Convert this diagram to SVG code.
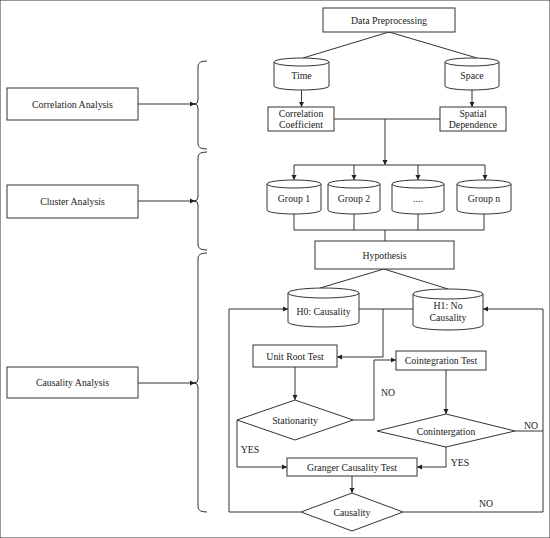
<svg xmlns="http://www.w3.org/2000/svg" width="550" height="538" viewBox="0 0 550 538">
<defs>
<marker id="ah" markerWidth="6" markerHeight="6" refX="5" refY="3" orient="auto" markerUnits="userSpaceOnUse">
<path d="M0,0.5 L5,3 L0,5.5 z" fill="#222"/>
</marker>
<style>
rect,path.shape,ellipse,polygon{fill:#fff;stroke:#333;stroke-width:1}
text{font-family:"Liberation Serif","Times New Roman",serif;font-size:9.8px;fill:#222;text-anchor:middle}
.c line,.c polyline,.c path{fill:none;stroke:#333;stroke-width:1}
.a{marker-end:url(#ah)}
</style>
</defs>
<rect width="550" height="538" fill="#fff" stroke="none"/>

<g class="c" id="connectors">
<line x1="389" y1="32" x2="303" y2="58"/>
<line x1="389" y1="32" x2="477" y2="58"/>
<line class="a" x1="301.5" y1="90" x2="301.5" y2="107"/>
<line class="a" x1="472" y1="90" x2="472" y2="107"/>
<line x1="334" y1="119" x2="440" y2="119"/>
<line class="a" x1="385" y1="119" x2="385" y2="165"/>
<line x1="294" y1="165" x2="485" y2="165"/>
<line class="a" x1="294" y1="165" x2="294" y2="180"/>
<line class="a" x1="354" y1="165" x2="354" y2="180"/>
<line class="a" x1="418" y1="165" x2="418" y2="180"/>
<line class="a" x1="485" y1="165" x2="485" y2="180"/>
<line x1="294" y1="214" x2="294" y2="230"/>
<line x1="354" y1="214" x2="354" y2="230"/>
<line x1="418" y1="214" x2="418" y2="230"/>
<line x1="484" y1="214" x2="484" y2="230"/>
<line x1="294" y1="230" x2="484" y2="230"/>
<line x1="385" y1="230" x2="385" y2="241"/>
<line x1="384" y1="269" x2="320" y2="288"/>
<line x1="384" y1="269" x2="448" y2="289"/>
<line x1="359" y1="309" x2="413" y2="309"/>
<polyline class="a" points="383,309 383,357 337,357"/>
<line class="a" x1="295" y1="367" x2="295" y2="400"/>
<polyline class="a" points="353,420 374,420 374,360 396,360"/>
<line class="a" x1="446" y1="370" x2="446" y2="414"/>
<line x1="515" y1="431" x2="543" y2="431"/>
<polyline class="a" points="543,512 543,309 483,309"/>
<polyline class="a" points="237,420 237,467 287,467"/>
<polyline class="a" points="446,447 446,467 417,467"/>
<line class="a" x1="352" y1="476" x2="352" y2="493"/>
<polyline class="a" points="301,512 229,512 229,309 288,309"/>
<line x1="403" y1="512" x2="543" y2="512"/>
<line class="a" x1="138" y1="104" x2="195" y2="104"/>
<line class="a" x1="138" y1="201" x2="195" y2="201"/>
<line class="a" x1="138" y1="383" x2="195" y2="383"/>
<path d="M207,61 Q198,61 198,66 L198,100 Q198,104 194,104 Q198,104 198,108 L198,144 Q198,149 207,149"/>
<path d="M207,152 Q198,152 198,157 L198,197 Q198,201 194,201 Q198,201 198,205 L198,245 Q198,250 207,250"/>
<path d="M207,253 Q198,253 198,258 L198,379 Q198,383 194,383 Q198,383 198,387 L198,507 Q198,512 207,512"/>
<text x="388" y="396">NO</text>
<text x="531" y="429">NO</text>
<text x="250" y="453">YES</text>
<text x="460" y="466">YES</text>
<text x="486" y="507">NO</text>
</g>

<g id="data-preprocessing"><rect x="323" y="8" width="132" height="24"/><text x="389" y="23.5">Data Preprocessing</text></g>

<g id="time"><path class="shape" d="M274,62 L274,86 A27.5,4 0 0 0 329,86 L329,62 Z"/><ellipse cx="301.5" cy="62" rx="27.5" ry="4"/><text x="301.5" y="79">Time</text></g>
<g id="space"><path class="shape" d="M445,62 L445,86 A27,4 0 0 0 499,86 L499,62 Z"/><ellipse cx="472" cy="62" rx="27" ry="4"/><text x="472" y="79">Space</text></g>

<g id="correlation-coefficient"><rect x="268" y="107" width="66" height="24"/><text x="301" y="116.5">Correlation</text><text x="301" y="128">Coefficient</text></g>
<g id="spatial-dependence"><rect x="440" y="107" width="66" height="24"/><text x="473" y="116.5">Spatial</text><text x="473" y="128">Dependence</text></g>

<g id="group1"><path class="shape" d="M267,184 L267,210 A27,4 0 0 0 321,210 L321,184 Z"/><ellipse cx="294" cy="184" rx="27" ry="4"/><text x="294" y="202">Group 1</text></g>
<g id="group2"><path class="shape" d="M328,184 L328,210 A26,4 0 0 0 380,210 L380,184 Z"/><ellipse cx="354" cy="184" rx="26" ry="4"/><text x="354" y="202">Group 2</text></g>
<g id="group-dots"><path class="shape" d="M392,184 L392,210 A26,4 0 0 0 444,210 L444,184 Z"/><ellipse cx="418" cy="184" rx="26" ry="4"/><text x="418" y="202">....</text></g>
<g id="groupn"><path class="shape" d="M457,184 L457,210 A27,4 0 0 0 511,210 L511,184 Z"/><ellipse cx="484" cy="184" rx="27" ry="4"/><text x="484" y="202">Group n</text></g>

<g id="hypothesis"><rect x="315" y="241" width="139" height="28"/><text x="384.5" y="258.5">Hypothesis</text></g>

<g id="h0"><path class="shape" d="M288,293 L288,322 A35.5,5 0 0 0 359,322 L359,293 Z"/><ellipse cx="323.5" cy="293" rx="35.5" ry="5"/><text x="323.5" y="314.5">H0: Causality</text></g>
<g id="h1"><path class="shape" d="M413,294 L413,325 A35,5 0 0 0 483,325 L483,294 Z"/><ellipse cx="448" cy="294" rx="35" ry="5"/><text x="448" y="308.5">H1: No</text><text x="448" y="320.5">Causality</text></g>

<g id="unit-root-test"><rect x="253" y="345" width="84" height="22"/><text x="295" y="359.5">Unit Root Test</text></g>
<g id="cointegration-test"><rect x="396" y="351" width="90" height="19"/><text x="441" y="364">Cointegration Test</text></g>

<g id="stationarity"><polygon points="295,400 353,420 295,440 237,420"/><text x="295" y="423.5">Stationarity</text></g>
<g id="conintergation"><polygon points="446,414 515,431 446,447 377,431"/><text x="446" y="434.5">Conintergation</text></g>

<g id="granger"><rect x="287" y="458" width="130" height="18"/><text x="352" y="470.5">Granger Causality Test</text></g>
<g id="causality"><polygon points="352,493 403,512 352,531 301,512"/><text x="352" y="515.5">Causality</text></g>

<g id="correlation-analysis"><rect x="7" y="88" width="131" height="32"/><text x="72.5" y="107.5">Correlation Analysis</text></g>
<g id="cluster-analysis"><rect x="7" y="185" width="131" height="33"/><text x="72.5" y="204.5">Cluster Analysis</text></g>
<g id="causality-analysis"><rect x="7" y="367" width="131" height="31"/><text x="72.5" y="386">Causality Analysis</text></g>
</svg>
